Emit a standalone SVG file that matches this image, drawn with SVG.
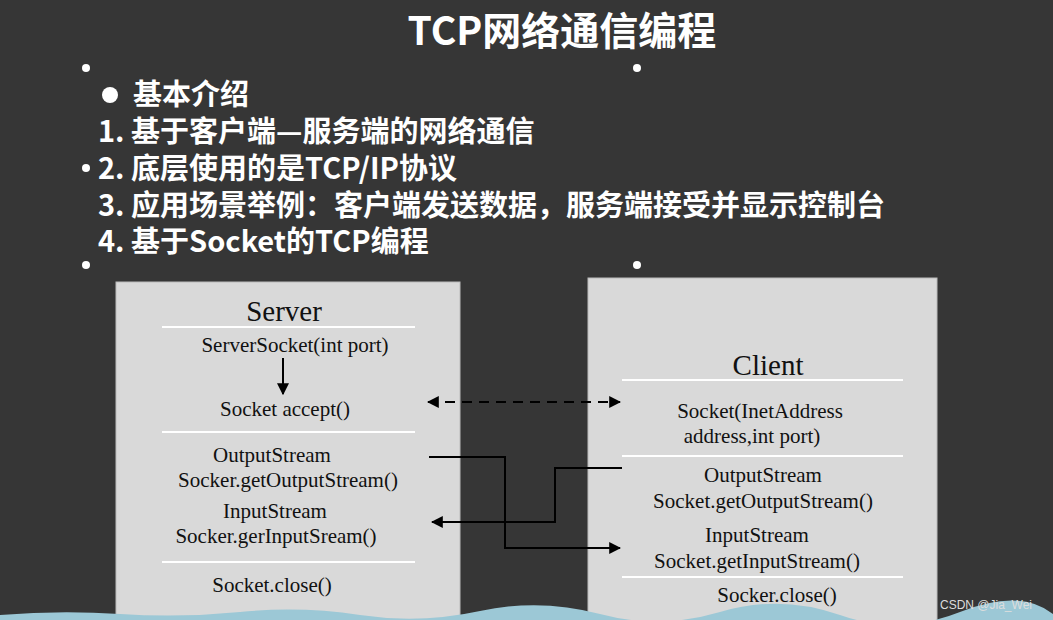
<svg xmlns="http://www.w3.org/2000/svg" width="1053" height="620" viewBox="0 0 1053 620">
<style>
.t{font-family:"Noto Sans CJK SC","Noto Sans",sans-serif;font-weight:bold;fill:#fff}
.s{font-family:"Liberation Serif",serif;fill:#111;text-anchor:middle;font-size:21px}
.h{font-size:29px}
.box{fill:#d9d9d9;stroke:#bbb}
.sep{stroke:#fff;stroke-width:2}
.c{stroke:#000;stroke-width:2;fill:none}
</style>
<defs><marker id="a" viewBox="0 0 10 10" refX="9" refY="5" markerWidth="6" markerHeight="6" orient="auto-start-reverse"><path d="M0,0L10,5L0,10z" fill="#000"/></marker></defs>
<rect width="1053" height="620" fill="#363636"/>
<text class="t" x="562" y="45" font-size="39" text-anchor="middle">TCP网络通信编程</text>
<g fill="#fff"><circle cx="86" cy="68" r="4"/><circle cx="637" cy="68" r="4"/><circle cx="86" cy="265" r="4"/><circle cx="637" cy="265" r="4"/><circle cx="86" cy="168" r="4"/><circle cx="110" cy="95" r="8"/></g>
<text class="t" x="133" y="105" font-size="29">基本介绍</text>
<text class="t" x="98" y="142" font-size="29">1. 基于客户端—服务端的网络通信</text>
<text class="t" x="98" y="179" font-size="29">2. 底层使用的是TCP/IP协议</text>
<text class="t" x="98" y="216" font-size="29">3. 应用场景举例：客户端发送数据，服务端接受并显示控制台</text>
<text class="t" x="98" y="252" font-size="29">4. 基于Socket的TCP编程</text>
<g id="server">
<rect class="box" x="116" y="282" width="344" height="345"/>
<line class="sep" x1="162" y1="327" x2="415" y2="327"/>
<line class="sep" x1="162" y1="432" x2="415" y2="432"/>
<line class="sep" x1="162" y1="562" x2="415" y2="562"/>
<text class="s h" x="284" y="321">Server</text>
<text class="s" x="295" y="352">ServerSocket(int port)</text>
<text class="s" x="285" y="416">Socket accept()</text>
<text class="s" x="272" y="462">OutputStream</text>
<text class="s" x="288" y="487">Socker.getOutputStream()</text>
<text class="s" x="275" y="518">InputStream</text>
<text class="s" x="276" y="543">Socker.gerInputSream()</text>
<text class="s" x="272" y="592">Socket.close()</text>
</g>
<g id="client">
<rect class="box" x="588" y="278" width="349" height="349"/>
<line class="sep" x1="622" y1="380" x2="903" y2="380"/>
<line class="sep" x1="622" y1="456" x2="903" y2="456"/>
<line class="sep" x1="622" y1="577" x2="903" y2="577"/>
<text class="s h" x="768" y="375">Client</text>
<text class="s" x="760" y="418">Socket(InetAddress</text>
<text class="s" x="752" y="443">address,int port)</text>
<text class="s" x="763" y="482">OutputStream</text>
<text class="s" x="763" y="508">Socket.getOutputStream()</text>
<text class="s" x="757" y="542">InputStream</text>
<text class="s" x="757" y="568">Socket.getInputStream()</text>
<text class="s" x="777" y="602">Socker.close()</text>
</g>
<g id="connectors">
<line class="c" x1="283" y1="358" x2="283" y2="394" stroke-width="1.5" marker-end="url(#a)"/>
<line class="c" x1="428" y1="402" x2="620" y2="402" stroke-dasharray="10,7" marker-start="url(#a)" marker-end="url(#a)"/>
<polyline class="c" points="429,457 505,457 505,548 620,548" marker-end="url(#a)"/>
<polyline class="c" points="622,468 555,468 555,522 432,522" marker-end="url(#a)"/>
</g>
<path d="M0,615 Q60,610 120,614 T240,612 T360,615 T480,611 T600,614 T720,612 T840,615 T960,612 T1053,614 V620 H0Z" fill="#9cc8d6"/>
<text x="940" y="609" font-family="Liberation Sans,sans-serif" font-size="12" fill="#ddd">CSDN @Jia_Wei</text>
</svg>
